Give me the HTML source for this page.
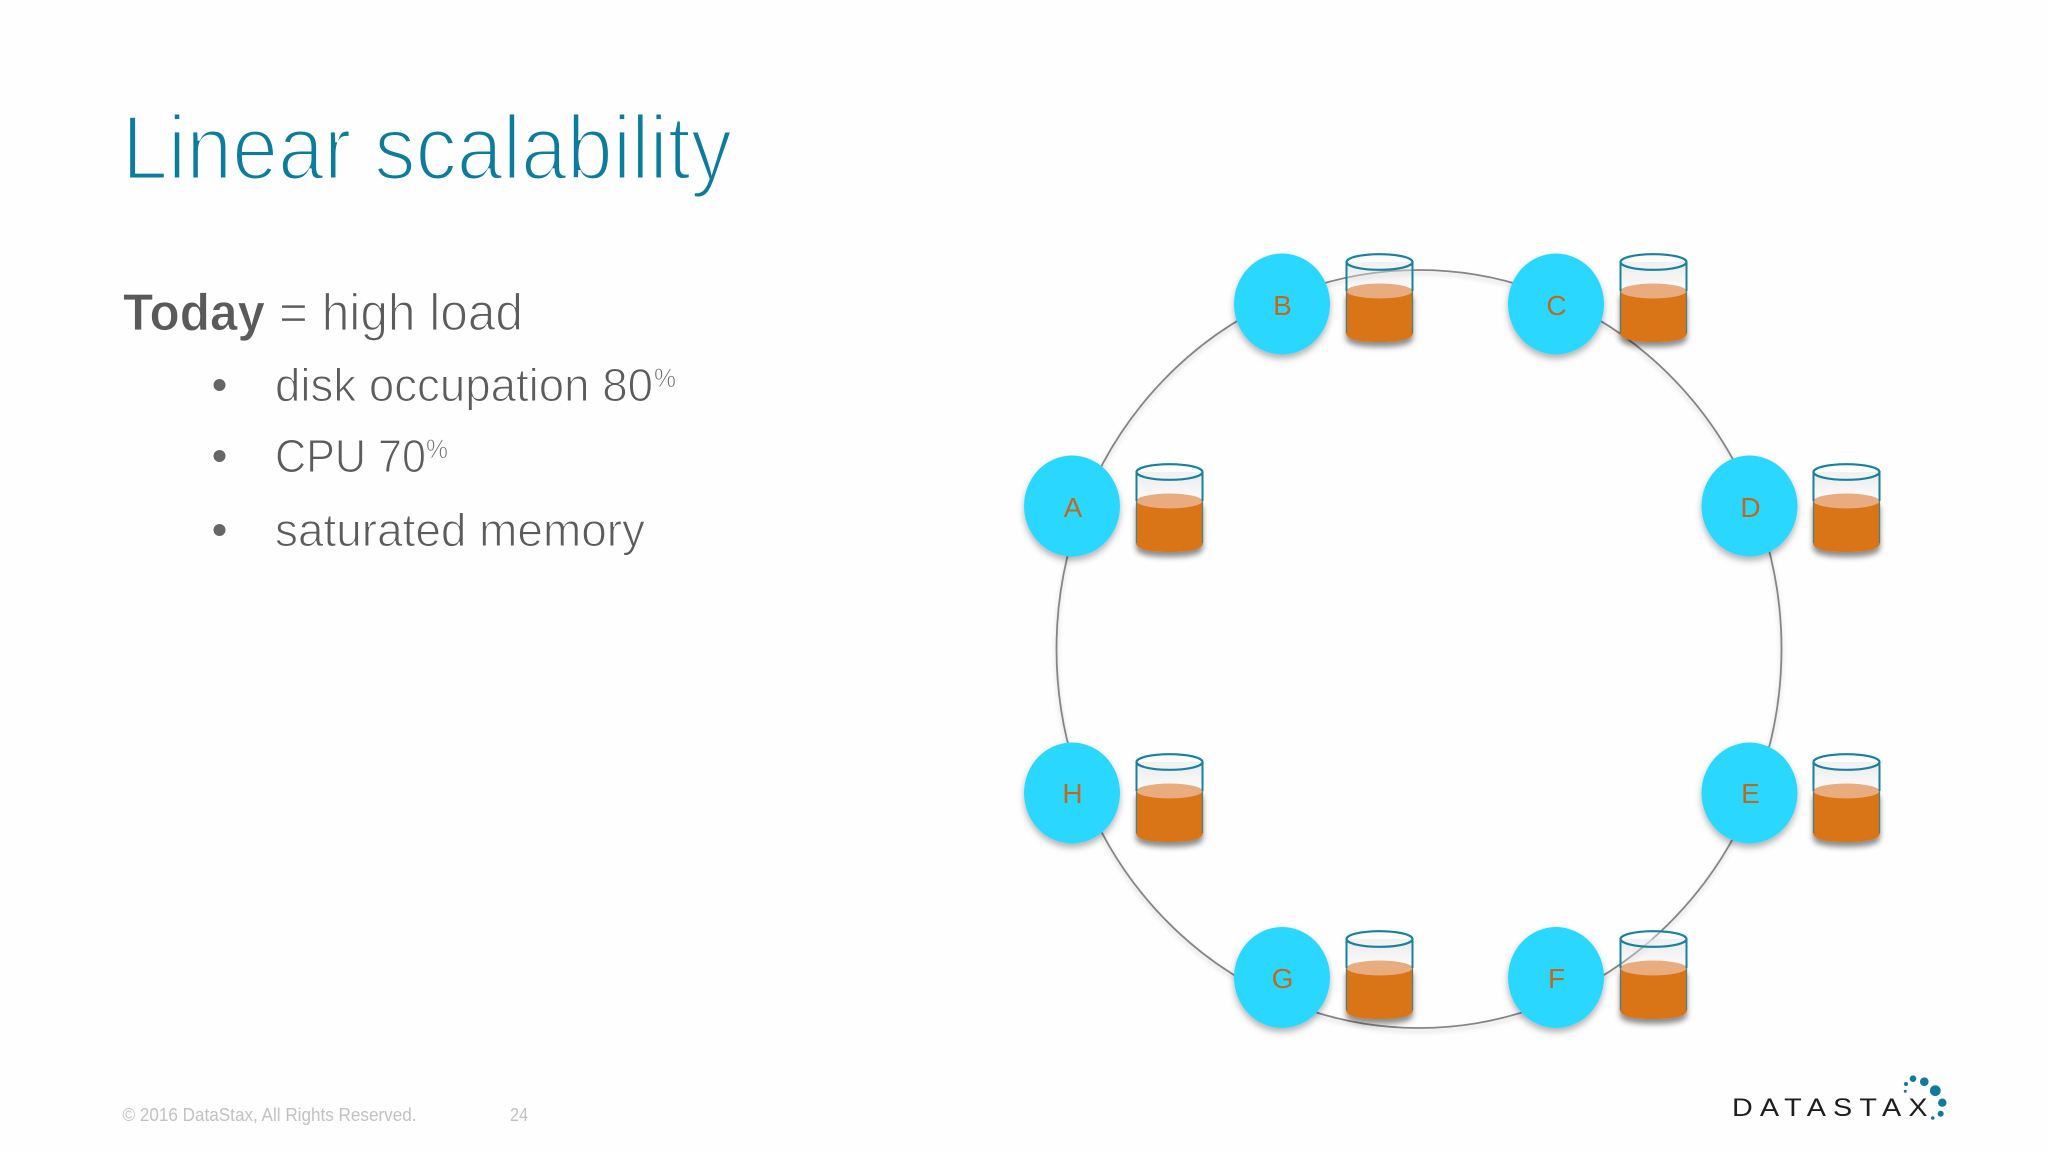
<!DOCTYPE html>
<html lang="en">
<head>
<meta charset="utf-8">
<title>Linear scalability</title>
<style>
html,body{margin:0;padding:0;background:#fefefe;width:2048px;height:1152px;overflow:hidden}
svg{display:block}
text{font-family:"Liberation Sans",sans-serif}
</style>
</head>
<body>
<svg xmlns="http://www.w3.org/2000/svg" width="2048" height="1152" viewBox="0 0 2048 1152">
<defs>
<filter id="ns" x="-30%" y="-30%" width="160%" height="170%"><feDropShadow dx="0" dy="4" stdDeviation="3.5" flood-color="#000" flood-opacity=".3"/></filter>
<filter id="js" x="-30%" y="-30%" width="160%" height="170%"><feDropShadow dx="0" dy="5" stdDeviation="3" flood-color="#000" flood-opacity=".45"/></filter>
<filter id="rs" x="-5%" y="-5%" width="110%" height="110%"><feDropShadow dx="0" dy="3" stdDeviation="2.5" flood-color="#000" flood-opacity=".18"/></filter>
<linearGradient id="glass" x1="0" y1="0" x2="0" y2="1"><stop offset="0" stop-color="#d8d8d8" stop-opacity=".55"/><stop offset="1" stop-color="#eeeeee" stop-opacity=".2"/></linearGradient>
<g id="jar">
<path d="M0 9V39H67V9Z" fill="url(#glass)"/>
<path d="M0 38V80C0 86 12 89 33.500 89C55 89 67 86 67 80V38Z" fill="#d97417" filter="url(#js)"/>
<ellipse cx="33.500" cy="38" rx="33" ry="7.500" fill="#e8ac7e"/>
<path d="M0.500 9V38M66.500 9V38" stroke="#17819f" stroke-width="2" fill="none"/>
<path d="M0.500 38V80M66.500 38V80" stroke="#17819f" stroke-width="1.400" stroke-opacity=".65" fill="none"/>
<ellipse cx="33.500" cy="9" rx="33" ry="7.800" fill="#ffffff" fill-opacity=".35" stroke="#17819f" stroke-width="2.200"/>
</g>
</defs>

<rect width="2048" height="1152" fill="#fefefe"/>

<!-- Title -->
<text x="122" y="179" font-size="91" textLength="610" lengthAdjust="spacingAndGlyphs" fill="#0b7c9c" stroke="#fefefe" stroke-width="3">Linear scalability</text>

<!-- Body -->
<text x="123" y="330" font-size="52" font-weight="700" textLength="142" lengthAdjust="spacingAndGlyphs" fill="#5a5a5a" stroke="#fefefe" stroke-width=".8">Today</text>
<text x="279" y="330" font-size="52" textLength="244" lengthAdjust="spacingAndGlyphs" fill="#5c5c5c" stroke="#fefefe" stroke-width="1.300">= high load</text>

<circle cx="219.500" cy="385" r="6" fill="#666"/>
<circle cx="219.500" cy="456" r="6" fill="#666"/>
<circle cx="219.500" cy="530" r="6" fill="#666"/>

<text x="275" y="401" font-size="46" textLength="378" lengthAdjust="spacingAndGlyphs" fill="#5c5c5c" stroke="#fefefe" stroke-width="1.100">disk occupation 80</text>
<text x="654" y="387" font-size="27" textLength="22" lengthAdjust="spacingAndGlyphs" fill="#6a6a6a" stroke="#fefefe" stroke-width=".7">%</text>
<text x="275" y="472" font-size="46" textLength="151" lengthAdjust="spacingAndGlyphs" fill="#5c5c5c" stroke="#fefefe" stroke-width="1.100">CPU 70</text>
<text x="426" y="458" font-size="27" textLength="22" lengthAdjust="spacingAndGlyphs" fill="#6a6a6a" stroke="#fefefe" stroke-width=".7">%</text>
<text x="275" y="546" font-size="46" textLength="370" lengthAdjust="spacingAndGlyphs" fill="#5c5c5c" stroke="#fefefe" stroke-width="1.100">saturated memory</text>

<!-- Ring -->
<ellipse cx="1419" cy="649" rx="362.500" ry="379" fill="none" stroke="#858585" stroke-width="1.800" filter="url(#rs)"/>

<!-- Jars -->
<use href="#jar" x="1346" y="253"/>
<use href="#jar" x="1620" y="253"/>
<use href="#jar" x="1136" y="463"/>
<use href="#jar" x="1813" y="463"/>
<use href="#jar" x="1136" y="753"/>
<use href="#jar" x="1813" y="753"/>
<use href="#jar" x="1346" y="930"/>
<use href="#jar" x="1620" y="930"/>

<!-- Nodes -->
<g fill="#29d8ff" filter="url(#ns)">
<ellipse cx="1072" cy="506" rx="48" ry="50.500"/>
<ellipse cx="1282" cy="304" rx="48" ry="50.500"/>
<ellipse cx="1556" cy="304" rx="48" ry="50.500"/>
<ellipse cx="1749.500" cy="506" rx="48" ry="50.500"/>
<ellipse cx="1749.500" cy="793" rx="48" ry="50.500"/>
<ellipse cx="1556" cy="977.500" rx="48" ry="50.500"/>
<ellipse cx="1282" cy="977.500" rx="48" ry="50.500"/>
<ellipse cx="1072" cy="793" rx="48" ry="50.500"/>
</g>
<g font-size="28" fill="#bd6a1e" text-anchor="middle">
<text x="1073" y="517">A</text>
<text x="1282.500" y="315">B</text>
<text x="1556.500" y="315">C</text>
<text x="1750.500" y="517">D</text>
<text x="1750.500" y="803">E</text>
<text x="1556.500" y="988">F</text>
<text x="1282.500" y="988">G</text>
<text x="1072.500" y="803">H</text>
</g>

<!-- Footer -->
<text x="122.500" y="1121" font-size="18" textLength="294" lengthAdjust="spacingAndGlyphs" fill="#c2c2c2">© 2016 DataStax, All Rights Reserved.</text>
<text x="510" y="1121" font-size="18" textLength="18" lengthAdjust="spacingAndGlyphs" fill="#c2c2c2">24</text>

<!-- Logo -->
<text transform="translate(1732 1116) scale(1.15 1)" x="0" y="0" font-size="25" textLength="170" lengthAdjust="spacing" fill="#1e1e1e">DATASTAX</text>
<g fill="#0f7b9c">
<circle cx="1913" cy="1078.700" r="3.300"/>
<circle cx="1924.300" cy="1081.700" r="4.300"/>
<circle cx="1935.300" cy="1090.700" r="5.400"/>
<circle cx="1942.300" cy="1102.700" r="4.200"/>
<circle cx="1940.700" cy="1113.700" r="3"/>
<circle cx="1932.700" cy="1118" r="1.800"/>
<circle cx="1906" cy="1084" r="2"/>
<circle cx="1905.300" cy="1091.300" r="1.500"/>
</g>
</svg>
</body>
</html>
